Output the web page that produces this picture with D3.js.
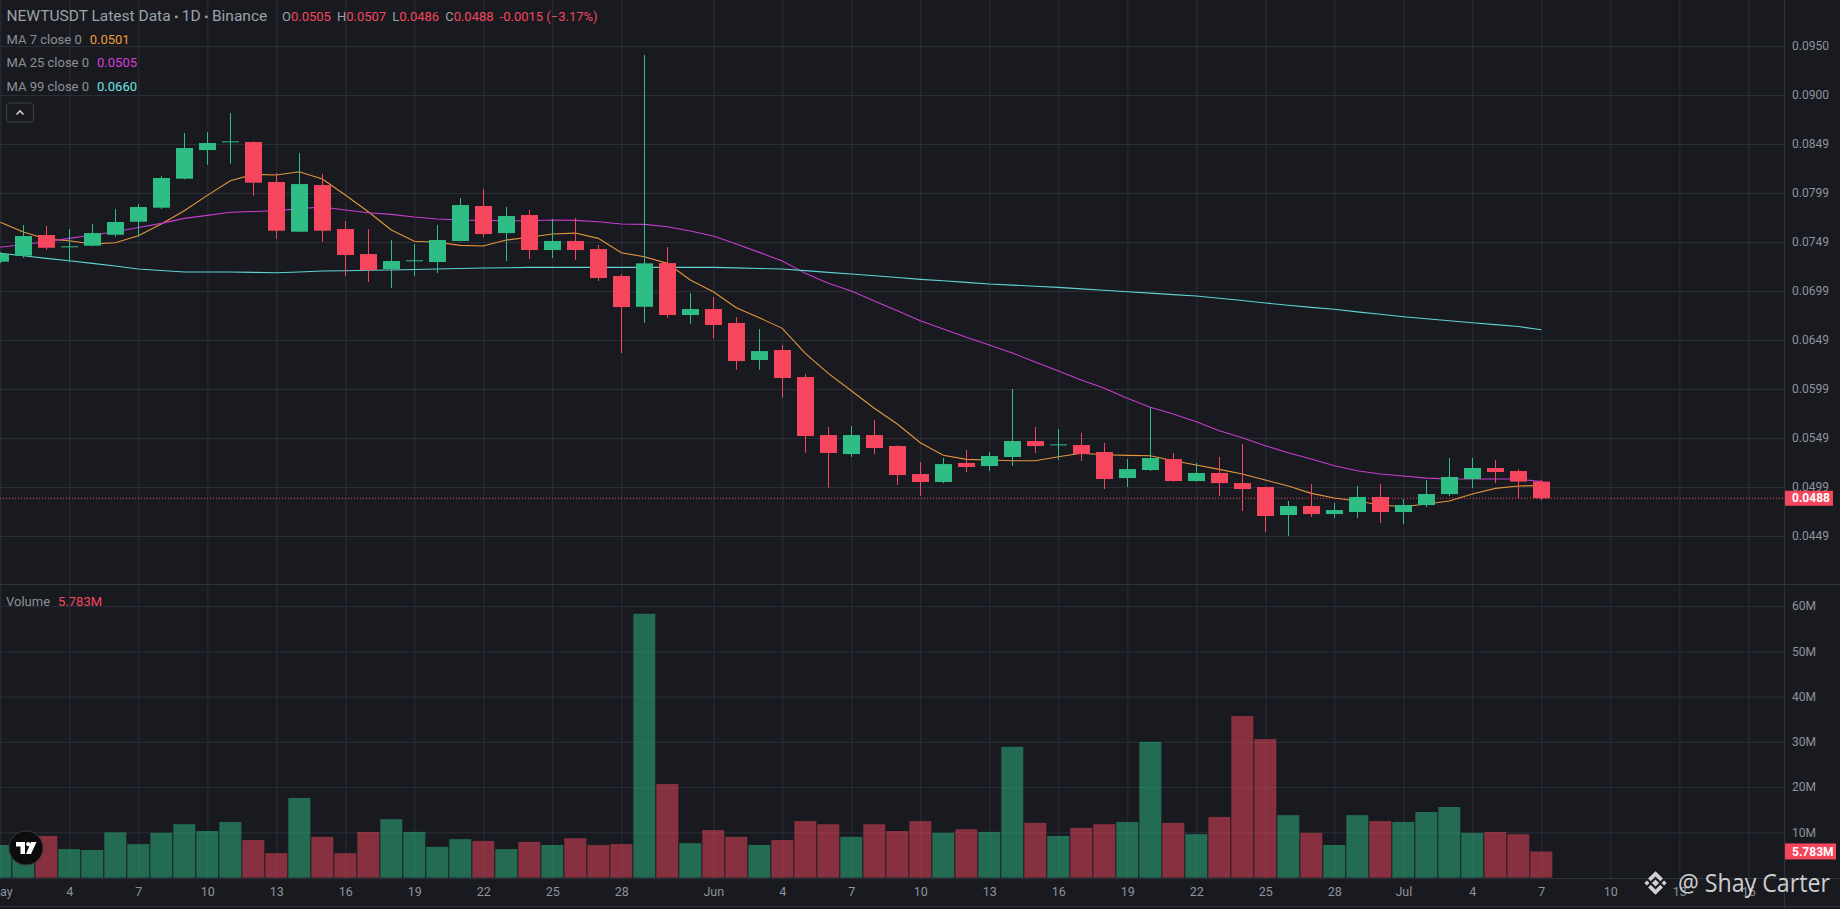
<!DOCTYPE html>
<html>
<head>
<meta charset="utf-8">
<script src="https://cdn.jsdelivr.net/npm/d3@7"></script>
<style>
html, body { margin: 0; padding: 0; background: #181a20; overflow: hidden; }
svg { display: block; font-family: Roboto, "Noto Sans", sans-serif; }
</style>
</head>
<body>
<script>
// daily candles, NEWTUSDT 1D (Binance), May 1 - Jul 7
const dates = [
    '05-01','05-02','05-03','05-04','05-05','05-06','05-07','05-08','05-09','05-10',
    '05-11','05-12','05-13','05-14','05-15','05-16','05-17','05-18','05-19','05-20',
    '05-21','05-22','05-23','05-24','05-25','05-26','05-27','05-28','05-29','05-30','05-31',
    '06-01','06-02','06-03','06-04','06-05','06-06','06-07','06-08','06-09','06-10',
    '06-11','06-12','06-13','06-14','06-15','06-16','06-17','06-18','06-19','06-20',
    '06-21','06-22','06-23','06-24','06-25','06-26','06-27','06-28','06-29','06-30',
    '07-01','07-02','07-03','07-04','07-05','07-06','07-07'
];
const open = [
    0.07294,0.07355,0.07566,0.07445,0.07457,0.07569,0.07702,0.07845,0.08141,0.08433,
    0.08515,0.08515,0.08107,0.07600,0.08076,0.07627,0.07372,0.07219,0.07301,0.07291,
    0.07505,0.07862,0.07586,0.07770,0.07413,0.07505,0.07423,0.07148,0.06834,0.07280,
    0.06750,0.06811,0.06668,0.06291,0.06393,0.06117,0.05525,0.05331,0.05525,0.05413,
    0.05127,0.05046,0.05240,0.05209,0.05301,0.05464,0.05420,0.05423,0.05352,0.05086,
    0.05168,0.05280,0.05056,0.05138,0.05035,0.04995,0.04709,0.04801,0.04719,0.04740,
    0.04893,0.04740,0.04811,0.04923,0.05076,0.05189,0.05158,0.0505
];
const high = [
    0.07393,0.07668,0.07658,0.07627,0.07678,0.07831,0.07882,0.08168,0.08607,0.08617,
    0.08811,0.08522,0.08199,0.08403,0.08189,0.07709,0.07627,0.07515,0.07474,0.07668,
    0.07944,0.08035,0.07852,0.07821,0.07729,0.07740,0.07464,0.07168,0.09403,0.07444,
    0.06974,0.06933,0.06729,0.06607,0.06444,0.06148,0.05607,0.05617,0.05678,0.05420,
    0.05250,0.05291,0.05372,0.05352,0.05995,0.05607,0.05586,0.05546,0.05444,0.05280,
    0.05811,0.05342,0.05240,0.05301,0.05434,0.05000,0.04852,0.05025,0.04832,0.05005,
    0.05025,0.04872,0.05066,0.05291,0.05291,0.05270,0.05178,0.0507
];
const low = [
    0.07280,0.07334,0.07416,0.07288,0.07450,0.07549,0.07549,0.07831,0.08135,0.08283,
    0.08294,0.07967,0.07528,0.07595,0.07498,0.07148,0.07086,0.07025,0.07148,0.07178,
    0.07500,0.07546,0.07301,0.07321,0.07331,0.07311,0.07097,0.06362,0.06671,0.06722,
    0.06661,0.06508,0.06192,0.06192,0.05906,0.05345,0.04988,0.05301,0.05331,0.05015,
    0.04903,0.05035,0.05148,0.05158,0.05209,0.05342,0.05270,0.05260,0.04974,0.04995,
    0.05158,0.05050,0.05050,0.04903,0.04750,0.04535,0.04495,0.04689,0.04679,0.04679,
    0.04627,0.04617,0.04791,0.04903,0.04984,0.05035,0.04872,0.0486
];
const close = [
    0.07372,0.07556,0.07436,0.07451,0.07586,0.07699,0.07852,0.08148,0.08454,0.08505,
    0.08522,0.08100,0.07610,0.08086,0.07610,0.07362,0.07209,0.07301,0.07308,0.07515,
    0.07872,0.07576,0.07760,0.07413,0.07505,0.07413,0.07127,0.06831,0.07277,0.06750,
    0.06811,0.06648,0.06280,0.06382,0.06107,0.05515,0.05342,0.05525,0.05393,0.05117,
    0.05046,0.05229,0.05199,0.05311,0.05464,0.05413,0.05430,0.05331,0.05076,0.05178,
    0.05291,0.05056,0.05138,0.05035,0.04974,0.04699,0.04801,0.04719,0.04760,0.04893,
    0.04740,0.04811,0.04923,0.05097,0.05189,0.05148,0.05050,0.0488
];
// volume in millions
const volume = [
    7.2,7.0,9.2,6.3,6.1,10.0,7.4,9.9,11.8,10.3,12.3,8.3,5.4,17.6,9.0,5.4,10.1,12.9,10.1,6.8,
    8.5,8.1,6.3,7.9,7.2,8.7,7.2,7.4,58.3,20.7,7.6,
    10.5,9.0,7.2,8.3,12.5,11.8,9.0,11.8,10.3,12.5,9.9,10.7,10.1,28.9,12.1,9.2,11.0,11.8,12.3,30.0,
    12.1,9.6,13.4,35.7,30.6,13.8,9.9,7.2,13.8,12.5,
    12.3,14.5,15.6,9.9,10.1,9.6,5.783
];
const ma7 = [
    0.07696,0.07597,0.07525,0.07508,0.07474,0.07488,0.07559,0.07678,0.07814,0.07971,
    0.08120,0.08185,0.08178,0.08212,0.08138,0.07974,0.07804,0.07617,0.07502,0.07492,
    0.07461,0.07454,0.07515,0.07543,0.07576,0.07586,0.07532,0.07385,0.07345,0.07277,
    0.07107,0.06988,0.06824,0.06722,0.06614,0.06359,0.06155,0.05977,0.05798,0.05638,
    0.05447,0.05318,0.05277,0.05270,0.05263,0.05263,0.05304,0.05339,0.05324,0.05318,
    0.05314,0.05263,0.05219,0.05175,0.05127,0.05066,0.05005,0.04930,0.04882,0.04852,
    0.04811,0.04794,0.04821,0.04852,0.04923,0.04981,0.05005,0.0501
];
const ma25 = [
    0.07441,0.07469,0.07498,0.07532,0.07566,0.07600,0.07643,0.07685,0.07736,0.07767,
    0.07798,0.07806,0.07814,0.07836,0.07852,0.07821,0.07794,0.07777,0.07750,0.07729,
    0.07719,0.07716,0.07712,0.07712,0.07719,0.07716,0.07702,0.07678,0.07675,0.07651,
    0.07607,0.07556,0.07474,0.07389,0.07301,0.07175,0.07073,0.06995,0.06893,0.06794,
    0.06692,0.06607,0.06522,0.06444,0.06362,0.06270,0.06178,0.06086,0.06002,0.05900,
    0.05808,0.05740,0.05661,0.05569,0.05498,0.05416,0.05345,0.05280,0.05212,0.05161,
    0.05127,0.05107,0.05086,0.05076,0.05076,0.05076,0.05076,0.0505
];
const ma99 = [
    0.07379,0.07354,0.07328,0.07303,0.07277,0.07250,0.07219,0.07204,0.07189,0.07189,
    0.07189,0.07185,0.07181,0.07189,0.07199,0.07202,0.07206,0.07209,0.07214,0.07219,
    0.07224,0.07229,0.07232,0.07236,0.07236,0.07236,0.07236,0.07236,0.07236,0.07236,
    0.07236,0.07236,0.07231,0.07225,0.07219,0.07203,0.07185,0.07168,0.07151,0.07132,
    0.07114,0.07099,0.07083,0.07066,0.07055,0.07044,0.07032,0.07017,0.07003,0.06988,
    0.06973,0.06958,0.06944,0.06921,0.06898,0.06873,0.06849,0.06828,0.06808,0.06782,
    0.06757,0.06732,0.06712,0.06692,0.06671,0.06652,0.06632,0.0660
];

const priceTicks = [0.04495,0.04995,0.05495,0.05995,0.06495,0.06995,0.07495,0.07995,0.08495,0.08995,0.09495];
const priceLabels = ['0.0449','0.0499','0.0549','0.0599','0.0649','0.0699','0.0749','0.0799','0.0849','0.0900','0.0950'];
const volTicks = [10,20,30,40,50,60];
const volLabels = ['10M','20M','30M','40M','50M','60M'];
const xTickDates = ['05-01','05-04','05-07','05-10','05-13','05-16','05-19','05-22','05-25','05-28',
    '06-01','06-04','06-07','06-10','06-13','06-16','06-19','06-22','06-25','06-28',
    '07-01','07-04','07-07','07-10','07-13','07-16'];
const xTickLabels = ['May','4','7','10','13','16','19','22','25','28',
    'Jun','4','7','10','13','16','19','22','25','28',
    'Jul','4','7','10','13','16'];

const ohlcLabels = ['O','H','L','C'];
const ohlcValues = ['0.0505','0.0507','0.0486','0.0488'];
const changeText = '-0.0015 (\u22123.17%)';
const maNames = ['MA 7 close 0','MA 25 close 0','MA 99 close 0'];
const maValues = ['0.0501','0.0505','0.0660'];
const lastPrice = 0.0488;
const lastVolume = '5.783M';

let width = 1840, height = 909;
let axisX = 1784;          // left edge of price axis
let timeAxisY = 878;       // top of time axis
let up = '#2ebd85', down = '#f6465d';
let gridColor = '#2a2e37';
let textColor = '#8f949c';
let maColors = ['#e6963a', '#c83ccf', '#5fd3d3'];
let maTextColors = ['#ee9d3b', '#d63fdc', '#6fe3e3'];

let parse = d3.utcParse('%Y-%m-%d');
let days = dates.map(d => parse('2025-' + d));
let tickDays = xTickDates.map(d => parse('2025-' + d));

let svg = d3.select('body').append('svg')
    .attr('width', width)
    .attr('height', height);

svg.append('rect').attr('width', width).attr('height', height).attr('fill', '#181a20');

// scales
let xScale = d3.scaleUtc()
    .domain([parse('2025-05-01'), parse('2025-07-19')])
    .range([0.3, 0.3 + 79 * 23]);
let yScale = d3.scaleLinear().domain([0.04495, 0.09495]).range([536, 46]);
let volScale = d3.scaleLinear().domain([0, 60]).range([877.6, 606.1]);

// grid
let vGrid = svg.append('g')
    .attr('transform', `translate(0, ${timeAxisY})`)
    .call(d3.axisBottom(xScale)
        .tickValues(tickDays.filter(d => xScale(d) < axisX))
        .tickSize(-timeAxisY)
        .tickFormat(''));
vGrid.select('.domain').remove();
vGrid.selectAll('line').attr('stroke', gridColor);

let hGrid = svg.append('g')
    .attr('transform', `translate(${axisX}, 0)`)
    .call(d3.axisLeft(yScale).tickValues(priceTicks).tickSize(axisX).tickFormat(''));
hGrid.select('.domain').remove();
hGrid.selectAll('line').attr('stroke', gridColor);

let vhGrid = svg.append('g')
    .attr('transform', `translate(${axisX}, 0)`)
    .call(d3.axisLeft(volScale).tickValues(volTicks).tickSize(axisX).tickFormat(''));
vhGrid.select('.domain').remove();
vhGrid.selectAll('line').attr('stroke', gridColor);

// pane separators
svg.append('line').attr('x1', 0).attr('x2', width).attr('y1', 584.5).attr('y2', 584.5).attr('stroke', '#2e323b');
svg.append('line').attr('x1', 0).attr('x2', width).attr('y1', timeAxisY + 0.5).attr('y2', timeAxisY + 0.5).attr('stroke', '#2e323b');
svg.append('line').attr('x1', 0).attr('x2', width).attr('y1', 906.5).attr('y2', 906.5).attr('stroke', '#2e323b');
svg.append('line').attr('x1', axisX + 0.5).attr('x2', axisX + 0.5).attr('y1', 0).attr('y2', height).attr('stroke', '#2e323b');

// volume bars
let idx = d3.range(dates.length);
let isUp = i => close[i] >= open[i];

svg.append('g').selectAll('rect')
    .data(idx)
    .enter()
    .append('rect')
    .attr('x', i => xScale(days[i]) - 11)
    .attr('width', 22)
    .attr('y', i => volScale(volume[i]))
    .attr('height', i => volScale(0) - volScale(volume[i]))
    .attr('fill', i => isUp(i) ? up : down)
    .attr('fill-opacity', 0.5);

// last price line
svg.append('line')
    .attr('x1', 0).attr('x2', axisX)
    .attr('y1', yScale(lastPrice)).attr('y2', yScale(lastPrice))
    .attr('stroke', down)
    .attr('stroke-width', 1)
    .attr('stroke-dasharray', '1,2');

// moving averages
[ma7, ma25, ma99].forEach((series, k) => {
    let line = d3.line()
        .x((d, i) => xScale(days[i]))
        .y(d => yScale(d));
    svg.append('path')
        .datum(series)
        .attr('d', line)
        .attr('fill', 'none')
        .attr('stroke', maColors[k])
        .attr('stroke-width', 1.1);
});

// candles
let candles = svg.append('g').selectAll('g')
    .data(idx)
    .enter()
    .append('g');

candles.append('line')
    .attr('x1', i => Math.round(xScale(days[i])) + 0.5)
    .attr('x2', i => Math.round(xScale(days[i])) + 0.5)
    .attr('y1', i => yScale(high[i]))
    .attr('y2', i => yScale(low[i]))
    .attr('stroke', i => isUp(i) ? up : down)
    .attr('stroke-width', 1);

candles.append('rect')
    .attr('x', i => Math.round(xScale(days[i])) - 8)
    .attr('width', 17)
    .attr('y', i => yScale(Math.max(open[i], close[i])))
    .attr('height', i => Math.max(1, Math.abs(yScale(open[i]) - yScale(close[i]))))
    .attr('fill', i => isUp(i) ? up : down);

// price axis labels
let yAxis = svg.append('g')
    .attr('transform', `translate(1792, 0)`)
    .call(d3.axisRight(yScale).tickValues(priceTicks).tickSize(0).tickPadding(0)
        .tickFormat((d, i) => priceLabels[i]));
yAxis.select('.domain').remove();
yAxis.selectAll('text').attr('fill', textColor).style('font-size', '12px').style('font-family', 'Roboto');

let vAxis = svg.append('g')
    .attr('transform', `translate(1792, 0)`)
    .call(d3.axisRight(volScale).tickValues(volTicks).tickSize(0).tickPadding(0)
        .tickFormat((d, i) => volLabels[i]));
vAxis.select('.domain').remove();
vAxis.selectAll('text').attr('fill', textColor).style('font-size', '12px').style('font-family', 'Roboto');

// time axis labels
let xAxis = svg.append('g')
    .attr('transform', `translate(0, ${timeAxisY})`)
    .call(d3.axisBottom(xScale).tickValues(tickDays).tickSize(0).tickPadding(9)
        .tickFormat((d, i) => xTickLabels[i]));
xAxis.select('.domain').remove();
xAxis.selectAll('text').attr('fill', textColor).style('font-size', '12.5px').style('font-family', 'Roboto');

// price + volume tags
svg.append('rect').attr('x', 1785).attr('y', yScale(lastPrice) - 7.5).attr('width', 48).attr('height', 15).attr('fill', down);
svg.append('text').attr('x', 1792).attr('y', yScale(lastPrice)).attr('dy', '0.35em')
    .attr('fill', '#fff').style('font-size', '12px').style('font-weight', 'bold').text(lastPrice.toFixed(4));
svg.append('rect').attr('x', 1785).attr('y', volScale(5.783) - 8).attr('width', 51).attr('height', 16).attr('fill', down);
svg.append('text').attr('x', 1792).attr('y', volScale(5.783)).attr('dy', '0.35em')
    .attr('fill', '#fff').style('font-size', '12px').style('font-weight', 'bold').text(lastVolume);

// legend
let title = svg.append('text').attr('x', 6.5).attr('y', 20.5).style('font-size', '15.5px').attr('fill', '#9ca1a9');
title.append('tspan').text('NEWTUSDT Latest Data ');
title.append('tspan').style('font-size', '10px').attr('dy', -1).text('\u25AA');
title.append('tspan').attr('dy', 1).text(' 1D ');
title.append('tspan').style('font-size', '10px').attr('dy', -1).text('\u25AA');
title.append('tspan').attr('dy', 1).text(' Binance');

let ohlc = svg.append('text').attr('x', 282).attr('y', 20.5).style('font-size', '13px');
ohlcLabels.forEach((l, i) => {
    ohlc.append('tspan').attr('fill', '#9ca1a9').attr('dx', i ? 6 : 0).text(l);
    ohlc.append('tspan').attr('fill', down).text(ohlcValues[i]);
});
ohlc.append('tspan').attr('fill', down).attr('dx', 6).text(changeText);

maNames.forEach((name, k) => {
    let t = svg.append('text').attr('x', 6.5).attr('y', 43.5 + k * 23.8).style('font-size', '13px');
    t.append('tspan').attr('fill', '#8b9099').text(name);
    t.append('tspan').attr('fill', maTextColors[k]).attr('dx', 8).text(maValues[k]);
});

svg.append('rect').attr('x', 6.5).attr('y', 103).attr('width', 27).attr('height', 19).attr('rx', 3)
    .attr('fill', 'none').attr('stroke', '#3a3e48');
svg.append('path').attr('d', 'M16.5,114.5 L20,111 L23.5,114.5').attr('fill', 'none')
    .attr('stroke', '#c9ccd1').attr('stroke-width', 1.6);

let vol = svg.append('text').attr('x', 6).attr('y', 606).style('font-size', '13px');
vol.append('tspan').attr('fill', '#8b9099').text('Volume');
vol.append('tspan').attr('fill', down).attr('dx', 8).text(lastVolume);

// TradingView badge
let tv = svg.append('g').attr('transform', 'translate(26, 848)');
tv.append('circle').attr('r', 17).attr('fill', '#0c0c0f').attr('stroke', '#3a3a40');
tv.append('path').attr('d', 'M-10,-6 h9 v12 h-4.5 v-7.5 h-4.5 z').attr('fill', '#fff');
tv.append('circle').attr('cx', 2.2).attr('cy', -3.8).attr('r', 2.1).attr('fill', '#fff');
tv.append('path').attr('d', 'M5,-6 h5.5 l-5.5,12 h-5 z').attr('fill', '#fff');

// watermark
let wm = svg.append('g').attr('transform', 'translate(1655.5, 883)').attr('fill', '#e6e6e6').attr('fill-opacity', 0.9);
wm.append('path').attr('d', 'M0,-3.6 L3.6,0 L0,3.6 L-3.6,0 Z');
wm.append('path').attr('d', 'M-8.6,-2.6 L-6,0 L-8.6,2.6 L-11.2,0 Z');
wm.append('path').attr('d', 'M8.6,-2.6 L11.2,0 L8.6,2.6 L6,0 Z');
wm.append('path').attr('d', 'M0,-11.8 L7.4,-4.4 L4.8,-1.8 L0,-6.6 L-4.8,-1.8 L-7.4,-4.4 Z');
wm.append('path').attr('d', 'M0,11.8 L7.4,4.4 L4.8,1.8 L0,6.6 L-4.8,1.8 L-7.4,4.4 Z');
svg.append('text')
    .attr('x', 1678).attr('y', 891.5)
    .attr('textLength', 152).attr('lengthAdjust', 'spacingAndGlyphs')
    .style('font-family', '"Open Sans"').style('font-size', '26px')
    .attr('fill', '#e6e6e6').attr('fill-opacity', 0.9)
    .text('@ Shay Carter');
</script>
</body>
</html>
